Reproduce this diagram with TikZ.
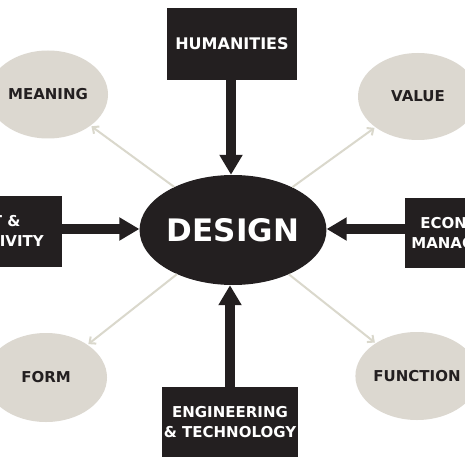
\documentclass[tikz,border=0pt]{standalone}
\usepackage{fontspec}
\setmainfont{DejaVu Sans}
\usetikzlibrary{arrows.meta,shapes.geometric}
\definecolor{dark}{HTML}{231F20}
\definecolor{pale}{HTML}{DCD8D0}
\definecolor{paleline}{HTML}{DAD8CC}
\tikzset{
  darkbox/.style={rectangle,fill=dark,text=white,inner sep=0pt,align=center,
    font=\fontsize{15}{20}\selectfont\bfseries},
  paleell/.style={ellipse,fill=pale,text=dark,inner sep=0pt,
    font=\fontsize{15}{20}\selectfont\bfseries},
  bigarrow/.style={draw=dark,line width=10pt,-{Triangle[width=22pt,length=20pt]}},
  thinarrow/.style={draw=paleline,line width=2pt,-{Straight Barb[length=5pt,width=9pt]},shorten >=1pt}
}
\begin{document}
\begin{tikzpicture}[x=1pt,y=-1pt]
\useasboundingbox (0,0) rectangle (465,465);
\clip (0,0) rectangle (465,465);
\fill[white] (0,0) rectangle (465,465);
% outer ellipses
\node[paleell,minimum width=120pt,minimum height=88pt] (meaning) at (48,94.5) {MEANING};
\node[paleell,minimum width=120pt,minimum height=87pt] (value) at (418,96.5) {VALUE};
\node[paleell,minimum width=122pt,minimum height=89pt] (form) at (46,377.5) {FORM};
\node[paleell,minimum width=120pt,minimum height=88pt] (function) at (417,376) {FUNCTION};
% centre
\node[ellipse,fill=dark,text=white,inner sep=0pt,minimum width=160pt,minimum height=110pt,
  font=\fontsize{31}{36}\selectfont\bfseries] (design) at (233,230) {DESIGN};
% boxes
\node[darkbox,minimum width=130pt,minimum height=72pt,
  font=\fontsize{16}{20}\selectfont\bfseries] (hum) at (232,44) {HUMANITIES};
\node[darkbox,minimum width=134pt,minimum height=71pt] (art) at (-5,231.5) {ART \&\\CREATIVITY};
\node[darkbox,minimum width=134pt,minimum height=70pt] (eco) at (472,233) {ECONOMY \&\\MANAGEMENT};
\node[darkbox,minimum width=136pt,minimum height=70pt] (eng) at (230,422) {ENGINEERING\\\& TECHNOLOGY};
% thin arrows
\draw[thinarrow] (design) -- (meaning);
\draw[thinarrow] (design) -- (value);
\draw[thinarrow] (design) -- (form);
\draw[thinarrow] (design) -- (function);
% thick arrows
\draw[bigarrow] (hum.south -| 231,0) -- (design.north -| 231,0);
\draw[bigarrow] (eng.north -| 230,0) -- (design.south -| 230,0);
\draw[bigarrow] (art.east |- 0,229) -- (design.west |- 0,229);
\draw[bigarrow] (eco.west |- 0,229) -- (design.east |- 0,229);
\end{tikzpicture}
\end{document}
